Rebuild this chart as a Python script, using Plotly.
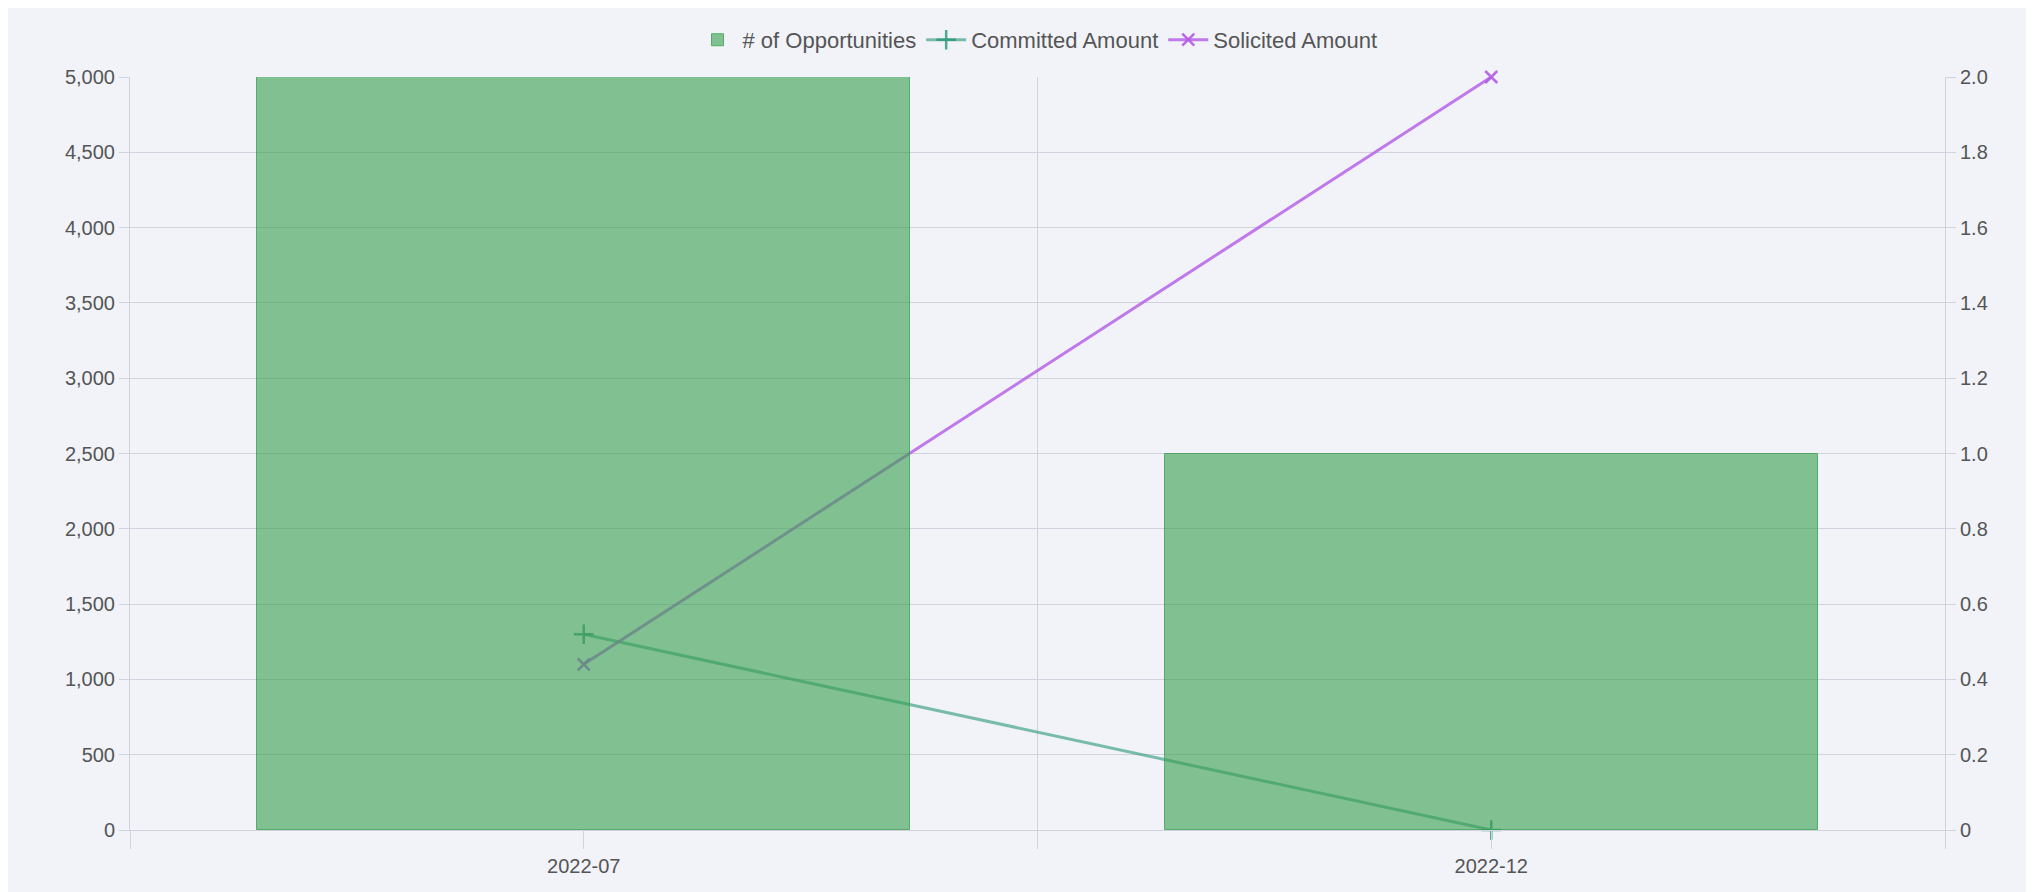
import plotly.graph_objects as go

months = ["2022-07", "2022-12"]
opportunities = [2, 1]
committed = [1300, 0]
solicited = [1100, 5000]

xpos = list(range(len(months)))

fig = go.Figure()
fig.add_trace(go.Bar(x=xpos, y=opportunities, name="# of Opportunities", yaxis="y2",
                     width=0.72, marker=dict(color="rgba(60,160,80,0.62)",
                                             line=dict(color="rgba(60,160,80,0.8)", width=1))))
fig.add_trace(go.Scatter(x=xpos, y=committed, name="Committed Amount", mode="lines+markers",
                         cliponaxis=False,
                         line=dict(color="rgba(40,150,120,0.6)", width=3),
                         marker=dict(symbol="cross-thin", size=14, line=dict(color="rgba(40,150,120,0.8)", width=2.5))))
fig.add_trace(go.Scatter(x=xpos, y=solicited, name="Solicited Amount", mode="lines+markers",
                         cliponaxis=False,
                         line=dict(color="rgba(180,90,230,0.8)", width=3),
                         marker=dict(symbol="x-thin", size=12, line=dict(color="rgba(180,90,230,0.9)", width=2.5))))

grid = "#d0d3dd"
fig.update_layout(
    width=2034, height=892,
    paper_bgcolor="#f1f3f9", plot_bgcolor="#f1f3f9",
    font=dict(family="Helvetica, Arial, sans-serif", size=20, color="#555"),
    margin=dict(l=122, r=97, t=68, b=70),
    legend=dict(orientation="h", x=0.5, xanchor="center", y=1.02, yanchor="bottom",
                font=dict(size=22), bgcolor="rgba(0,0,0,0)", itemwidth=40),
    xaxis=dict(range=[-0.5, 1.5], tickvals=[-0.5, 0, 0.5, 1, 1.5], ticktext=["", months[0], "", months[1], ""],
               showgrid=False, zeroline=False, showline=True, linecolor=grid, ticks="outside",
               ticklen=18, tickcolor=grid),
    yaxis=dict(range=[0, 5000], dtick=500, tickformat=",", gridcolor=grid, zeroline=False,
               showline=True, linecolor=grid, ticks="outside", ticklen=10, tickcolor=grid),
    yaxis2=dict(range=[0, 2], overlaying="y", side="right", showgrid=False, zeroline=False,
                showline=True, linecolor=grid, ticks="outside", ticklen=10, tickcolor=grid,
                tickvals=[i * 0.2 for i in range(11)],
                ticktext=["0"] + [f"{i*0.2:.1f}" for i in range(1, 11)]),
    bargap=0,
    shapes=[dict(type="line", xref="x", yref="paper", x0=0.5, x1=0.5, y0=0, y1=1,
                 line=dict(color=grid, width=1), layer="below")],
)
fig.write_html("out.html")
